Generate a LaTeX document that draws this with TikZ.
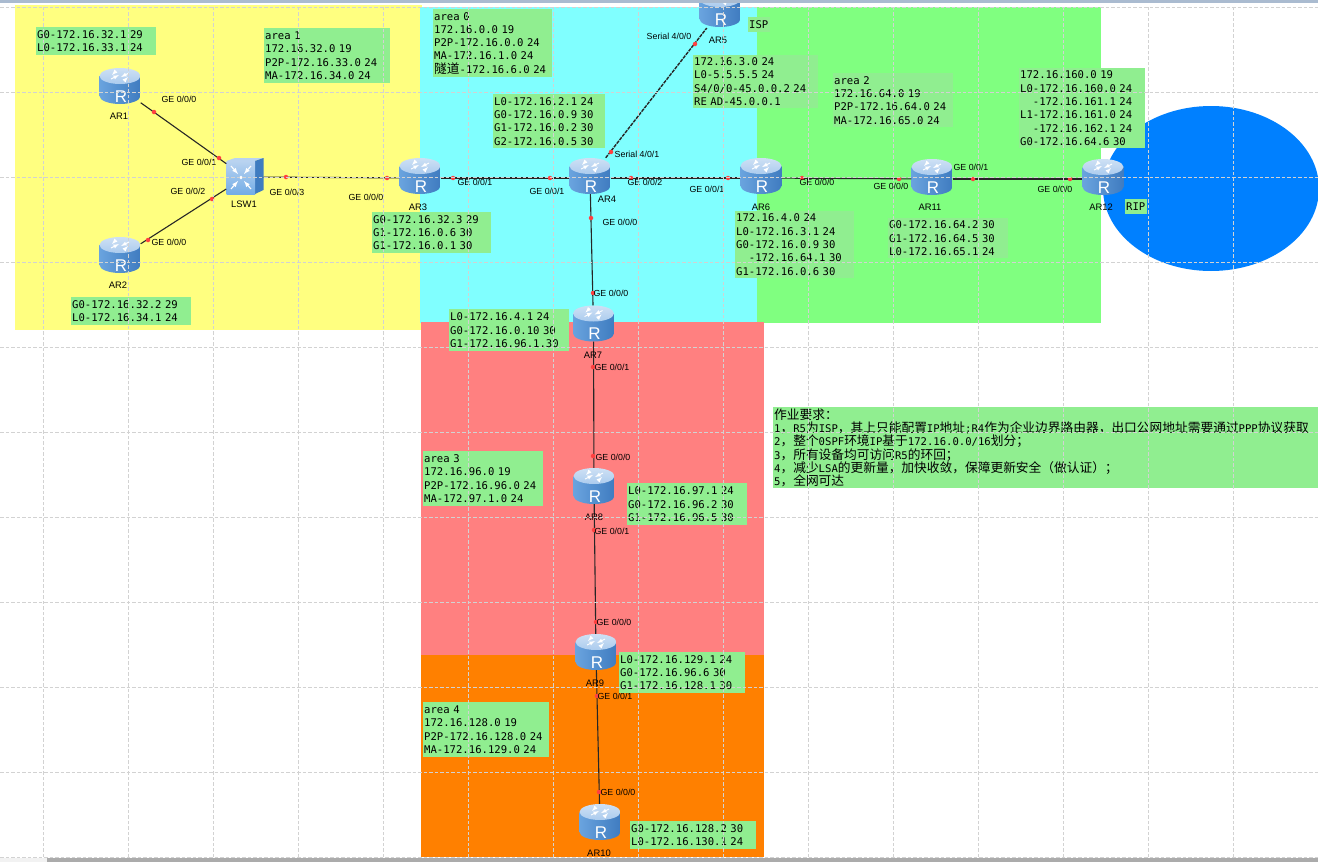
\documentclass[tikz,border=0pt]{standalone}
\usepackage{fontspec}
\setsansfont{Liberation Sans}
\setmonofont{DejaVu Sans Mono}
\newfontfamily\cjk[Scale=1.2]{Noto Sans CJK SC}
\usetikzlibrary{arrows,shapes,positioning,calc}
\definecolor{zoneyellow}{HTML}{FFFF80}
\definecolor{zonecyan}{HTML}{80FFFF}
\definecolor{zonegreen}{HTML}{80FF80}
\definecolor{zonered}{HTML}{FF8080}
\definecolor{zoneorange}{HTML}{FF8000}
\definecolor{ripblue}{HTML}{0080FF}
\definecolor{notegreen}{HTML}{90EE90}
\definecolor{gridgray}{HTML}{D2D2D2}
\definecolor{portred}{HTML}{FF4040}
\definecolor{topbar}{HTML}{AABBD0}
\definecolor{iconlight}{HTML}{B9D3F0}
\definecolor{iconmid}{HTML}{74ADE6}
\definecolor{icondark}{HTML}{3F7CC0}

\newcommand{\routericon}{
    \begin{scope}[shift={(path picture bounding box.center)}]
        \shade[left color=iconmid!80!icondark, middle color=iconmid, right color=icondark]
            (-20.5,-12) -- (-20.5,8) arc[start angle=180, end angle=360, x radius=20.5pt, y radius=8pt] -- (20.5,-12) -- cycle;
        \shade[top color=iconlight!70!white, bottom color=iconlight!80!iconmid] (0,-12) ellipse [x radius=20.5pt, y radius=8pt];
        \draw[white, line width=0.9pt, -latex] (-9,-9) -- (-1,-13);
        \draw[white, line width=0.9pt, -latex] (-4,-17) -- (-8,-13);
        \draw[white, line width=0.9pt, -latex] (9,-15) -- (1,-11);
        \draw[white, line width=0.9pt, -latex] (4,-7) -- (8,-11);
        \node[white, inner sep=0pt, font=\sffamily\fontsize{17}{17}\selectfont] at (1,8.5) {R};
    \end{scope}
}
\newcommand{\switchicon}{
    \begin{scope}[shift={(path picture bounding box.center)}]
        \fill[iconlight] (-18.5,-16) -- (-10,-19) -- (18.5,-19) -- (10,-16) -- cycle;
        \fill[icondark] (10,-16) -- (18.5,-19) -- (18.5,13) -- (10,17) -- cycle;
        \shade[top color=iconlight, bottom color=iconmid] (-18.5,-16) rectangle (10,17);
        \draw[white, line width=1.1pt, -latex] (-14,-11) -- (-7,-3);
        \draw[white, line width=1.1pt, -latex] (6,-11) -- (-1,-3);
        \draw[white, line width=1.1pt, -latex] (-14,12) -- (-7,4);
        \draw[white, line width=1.1pt, -latex] (6,12) -- (-1,4);
        \fill[white] (-4,0.5) circle [radius=1.8pt];
    \end{scope}
}

\tikzset{
    router/.style={rectangle, inner sep=0pt, minimum width=41, minimum height=40, path picture={\routericon}},
    switch/.style={rectangle, inner sep=0pt, minimum width=37, minimum height=38, path picture={\switchicon}},
    link/.style={draw=black!85, line width=1.1pt},
    seriallink/.style={draw=black!85, line width=1.4pt, dash pattern=on 3.5pt off 1pt},
    port/.style={circle, fill=portred, inner sep=0pt, minimum size=4.5},
    portname/.style={inner sep=0pt, font=\sffamily\fontsize{8.8}{10}\selectfont},
    devname/.style={inner sep=0pt, font=\sffamily\fontsize{9.4}{11}\selectfont},
    note/.style 2 args={fill=notegreen, anchor=north west, inner sep=1pt, align=left, text width=#1pt, minimum height=#2,
        font=\ttfamily\fontsize{10.6}{13.3}\selectfont},
    griddash/.style={draw=gridgray, line width=0.8pt, dash pattern=on 3.5pt off 2pt}
}

\begin{document}
\begin{tikzpicture}[x=1pt, y=-1pt]
    \useasboundingbox (0,0) rectangle (1318,862);

    % Areas
    \fill[ripblue] (1211,188.5) ellipse [x radius=108pt, y radius=82.5pt];
    \fill[zoneyellow] (15,5) rectangle (422,330);
    \fill[zonecyan] (420,7) rectangle (757,323);
    \fill[zonegreen] (757,7) rectangle (1101,323);
    \fill[zonered] (421,322) rectangle (764,655);
    \fill[zoneorange] (421,655) rectangle (764,857);

    % Devices
    \node[router] (ar1) at (120,88) {};
    \node[router] (ar2) at (120,257) {};
    \node[switch] (lsw1) at (245,177) {};
    \node[router] (ar3) at (420,178) {};
    \node[router] (ar4) at (590,178) {};
    \node[router] (ar5) at (720,11) {};
    \node[router] (ar6) at (761,178) {};
    \node[router] (ar11) at (932,179) {};
    \node[router] (ar12) at (1103,179) {};
    \node[router] (ar7) at (593.5,325.5) {};
    \node[router] (ar8) at (594,488) {};
    \node[router] (ar9) at (596,654) {};
    \node[router] (ar10) at (600,824) {};

    % Links
    \draw[link] (ar1) -- (lsw1);
    \draw[link] (ar2) -- (lsw1);
    \draw[link] (lsw1) -- (ar3);
    \draw[link] (ar3) -- (ar4);
    \draw[link] (ar4) -- (ar6);
    \draw[link] (ar6) -- (ar11);
    \draw[link] (ar11) -- (ar12);
    \draw[seriallink, shorten >=-4pt] (ar4) -- (ar5);
    \draw[link, shorten <=-4pt] (ar4) -- (ar7);
    \draw[link, shorten <=-4pt] (ar7) -- (ar8);
    \draw[link, shorten <=-4pt] (ar8) -- (ar9);
    \draw[link, shorten <=-4pt] (ar9) -- (ar10);

    % Ports
    \node[port] (p1a) at (154,112) {};
    \node[port] (p1b) at (219,158) {};
    \node[port] (p2a) at (148,240) {};
    \node[port] (p2b) at (212,199) {};
    \node[port] (p3a) at (286,177) {};
    \node[port] (p3b) at (387,178) {};
    \node[port] (p4a) at (453,178) {};
    \node[port] (p4b) at (550,178) {};
    \node[port] (p5a) at (631,178) {};
    \node[port] (p5b) at (728,178) {};
    \node[port] (p6a) at (611,152) {};
    \node[port] (p6b) at (695,44) {};
    \node[port] (p7a) at (802,178) {};
    \node[port] (p7b) at (899,179) {};
    \node[port] (p8a) at (973,179) {};
    \node[port] (p8b) at (1070,179) {};
    \node[port] (p9a) at (591,218) {};
    \node[port] (p9b) at (593,293) {};
    \node[port] (p10a) at (593,367) {};
    \node[port] (p10b) at (593,456) {};
    \node[port] (p11a) at (594,530) {};
    \node[port] (p11b) at (596,622) {};
    \node[port] (p12a) at (597,696) {};
    \node[port] (p12b) at (599,792) {};

    \node[portname] (n1a) at (179,99) {GE 0/0/0};
    \node[portname] (n1b) at (199,162) {GE 0/0/1};
    \node[portname] (n2a) at (169,242) {GE 0/0/0};
    \node[portname] (n2b) at (188,191) {GE 0/0/2};
    \node[portname] (n3a) at (287,192) {GE 0/0/3};
    \node[portname] (n3b) at (366,197) {GE 0/0/0};
    \node[portname] (n4a) at (475,182) {GE 0/0/1};
    \node[portname] (n4b) at (547,191) {GE 0/0/1};
    \node[portname] (n5a) at (645,182) {GE 0/0/2};
    \node[portname] (n5b) at (707,189) {GE 0/0/1};
    \node[portname] (n6a) at (637,154) {Serial 4/0/1};
    \node[portname] (n6b) at (669,36) {Serial 4/0/0};
    \node[portname] (n7a) at (817,182) {GE 0/0/0};
    \node[portname] (n7b) at (891,186) {GE 0/0/0};
    \node[portname] (n8a) at (971,167) {GE 0/0/1};
    \node[portname] (n8b) at (1055,189) {GE 0/0/0};
    \node[portname] (n9a) at (620,222) {GE 0/0/0};
    \node[portname] (n9b) at (611,293) {GE 0/0/0};
    \node[portname] (n10a) at (612,367) {GE 0/0/1};
    \node[portname] (n10b) at (613,457) {GE 0/0/0};
    \node[portname] (n11a) at (612,531) {GE 0/0/1};
    \node[portname] (n11b) at (614,622) {GE 0/0/0};
    \node[portname] (n12a) at (615,696) {GE 0/0/1};
    \node[portname] (n12b) at (618,792) {GE 0/0/0};

    \node[devname] (ar1name) at (119,116) {AR1};
    \node[devname] (ar2name) at (118,285) {AR2};
    \node[devname] (lsw1name) at (244,204) {LSW1};
    \node[devname] (ar3name) at (418,207) {AR3};
    \node[devname] (ar4name) at (607,199) {AR4};
    \node[devname] (ar5name) at (718,40) {AR5};
    \node[devname] (ar6name) at (761,207) {AR6};
    \node[devname] (ar11name) at (930,207) {AR11};
    \node[devname] (ar12name) at (1101,207) {AR12};
    \node[devname] (ar7name) at (593,355) {AR7};
    \node[devname] (ar8name) at (594,517) {AR8};
    \node[devname] (ar9name) at (595,683) {AR9};
    \node[devname] (ar10name) at (599,853) {AR10};

    % Address notes
    \node[note={118}{28}] (noteAR1) at (36,27) {G0-172.16.32.1 29\\L0-172.16.33.1 24};
    \node[note={124}{55}] (noteArea1) at (264,28) {area 1\\172.16.32.0 19\\P2P-172.16.33.0 24\\MA-172.16.34.0 24};
    \node[note={118}{28}] (noteAR2) at (71,297) {G0-172.16.32.2 29\\L0-172.16.34.1 24};
    \node[note={117}{41}] (noteAR3) at (372,212) {G0-172.16.32.3 29\\G1-172.16.0.6 30\\G1-172.16.0.1 30};
    \node[note={117}{68}] (noteArea0) at (433,9) {area 0\\172.16.0.0 19\\P2P-172.16.0.0 24\\MA-172.16.1.0 24\\{\cjk 隧道}-172.16.6.0 24};
    \node[note={110}{54}] (noteAR4) at (493,94) {L0-172.16.2.1 24\\G0-172.16.0.9 30\\G1-172.16.0.2 30\\G2-172.16.0.5 30};
    \node[note={123}{53}] (noteAR5) at (693,55) {172.16.3.0 24\\L0-5.5.5.5 24\\S4/0/0-45.0.0.2 24\\RE AD-45.0.0.1};
    \node[note={20}{15}] (noteISP) at (748,17) {ISP};
    \node[note={117}{67}] (noteAR6) at (735,211) {172.16.4.0 24\\L0-172.16.3.1 24\\G0-172.16.0.9 30\\\phantom{G0}-172.16.64.1 30\\G1-172.16.0.6 30};
    \node[note={118}{54}] (noteArea2) at (833,73) {area 2\\172.16.64.0 19\\P2P-172.16.64.0 24\\MA-172.16.65.0 24};
    \node[note={124}{80}] (noteAR12) at (1019,68) {172.16.160.0 19\\L0-172.16.160.0 24\\\phantom{L0}-172.16.161.1 24\\L1-172.16.161.0 24\\\phantom{L1}-172.16.162.1 24\\G0-172.16.64.6 30};
    \node[note={118}{40}] (noteAR11) at (888,218) {G0-172.16.64.2 30\\G1-172.16.64.5 30\\L0-172.16.65.1 24};
    \node[note={20}{15}] (noteRIP) at (1125,199) {RIP};
    \node[note={118}{42}] (noteAR7) at (449,309) {L0-172.16.4.1 24\\G0-172.16.0.10 30\\G1-172.16.96.1.30};
    \node[note={118}{55}] (noteArea3) at (423,451) {area 3\\172.16.96.0 19\\P2P-172.16.96.0 24\\MA-172.97.1.0 24};
    \node[note={118}{42}] (noteAR8) at (627,483) {L0-172.16.97.1 24\\G0-172.16.96.2 30\\G1-172.16.96.5 30};
    \node[note={124}{41}] (noteAR9) at (619,652) {L0-172.16.129.1 24\\G0-172.16.96.6 30\\G1-172.16.128.1 30};
    \node[note={124}{55}] (noteArea4) at (423,702) {area 4\\172.16.128.0 19\\P2P-172.16.128.0 24\\MA-172.16.129.0 24};
    \node[note={124}{28}] (noteAR10) at (630,821) {G0-172.16.128.2 30\\L0-172.16.130.1 24};
    \node[note={543}{81}] (noteTask) at (773,407) {{\cjk 作业要求：}\\1{\cjk ，}R5{\cjk 为}ISP{\cjk ，其上只能配置}IP{\cjk 地址}{;}R4{\cjk 作为企业边界路由器，出口公网地址需要通过}PPP{\cjk 协议获取}\\2{\cjk ，整个}0SPF{\cjk 环境}IP{\cjk 基于}172.16.0.0/16{\cjk 划分；}\\3{\cjk ，所有设备均可访问}R5{\cjk 的环回；}\\4{\cjk ，减少}LSA{\cjk 的更新量，加快收敛，保障更新安全（做认证）；}\\5{\cjk ，全网可达}};

    % Canvas grid and window edges
    \draw[griddash, shift={(43,7)}, step=85pt] (-43,850) grid (1275,0);
    \fill[topbar] (0,0) rectangle (1318,3);
    \fill[black!5] (0,858) rectangle (47,862);
    \fill[black!33] (47,858) rectangle (1318,862);
\end{tikzpicture}
\end{document}
